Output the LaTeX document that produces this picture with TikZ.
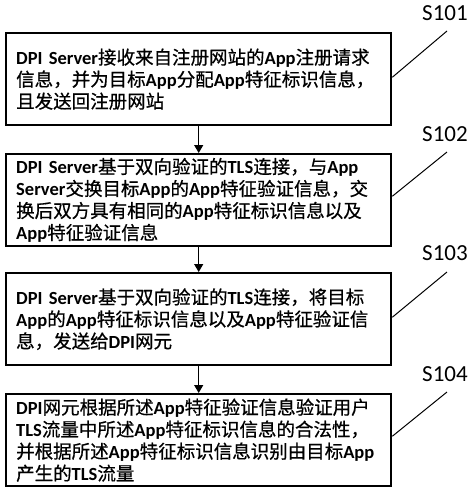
\documentclass[tikz,border=0pt]{standalone}
\usepackage{fontspec}
\setmainfont{Noto Sans CJK SC}[FakeBold=0.7]
\newfontfamily\latf{Carlito}
\newcommand{\lt}[1]{{\latf\bfseries #1}}
\usetikzlibrary{arrows.meta}
\tikzset{
  stepbox/.style={draw=black, line width=2.4pt, minimum width=385pt, minimum height=92pt,
    inner xsep=10pt, inner ysep=0pt, text width=365pt, align=left, anchor=north west,
    font=\fontsize{18.5pt}{22pt}\selectfont},
  flow/.style={line width=1.3pt, -{Triangle[length=8pt,width=9pt]}},
  leader/.style={line width=1pt},
  steplabel/.style={font=\latf\fontsize{23pt}{25pt}\selectfont, inner sep=0pt, anchor=base}
}
\begin{document}
\begin{tikzpicture}[x=1pt,y=-1pt]
\useasboundingbox (0,0) rectangle (474,488);
\node[stepbox] (b1) at (5,32) {\lt{DPI Server}接收来自注册网站的\lt{App}注册请求\\信息，并为目标\lt{App}分配\lt{App}特征标识信息，\\且发送回注册网站};
\node[stepbox] (b2) at (5,153) {\lt{DPI Server}基于双向验证的\lt{TLS}连接，与\lt{App}\\\lt{Server}交换目标\lt{App}的\lt{App}特征验证信息，交\\换后双方具有相同的\lt{App}特征标识信息以及\\\lt{App}特征验证信息};
\node[stepbox] (b3) at (5,272) {\lt{DPI Server}基于双向验证的\lt{TLS}连接，将目标\\\lt{App}的\lt{App}特征标识信息以及\lt{App}特征验证信\\息，发送给\lt{DPI}网元};
\node[stepbox] (b4) at (5,393) {\lt{DPI}网元根据所述\lt{App}特征验证信息验证用户\\\lt{TLS}流量中所述\lt{App}特征标识信息的合法性，\\并根据所述\lt{App}特征标识信息识别由目标\lt{App}\\产生的\lt{TLS}流量};
\draw[flow] (b1) -- (b2);
\draw[flow] (b2) -- (b3);
\draw[flow] (b3) -- (b4);
\node[steplabel] (s1) at (445,20) {S101};
\node[steplabel] (s2) at (445,141) {S102};
\node[steplabel] (s3) at (445,260) {S103};
\node[steplabel] (s4) at (445,381) {S104};
\coordinate (t1) at (447,31);
\coordinate (t2) at (447,152);
\coordinate (t3) at (447,272);
\coordinate (t4) at (447,392);
\draw[leader] ([yshift=2pt]b1.east) -- (t1);
\draw[leader] ([yshift=4pt]b2.east) -- (t2);
\draw[leader] ([yshift=2pt]b3.east) -- (t3);
\draw[leader] ([yshift=4pt]b4.east) -- (t4);
\end{tikzpicture}
\end{document}
